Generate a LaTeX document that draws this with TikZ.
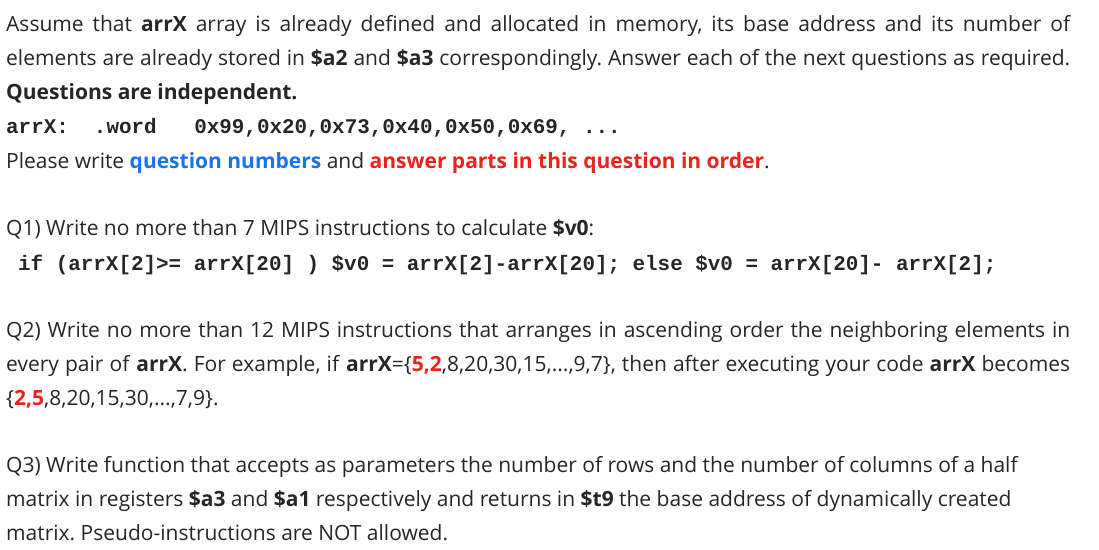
\documentclass[tikz,border=0pt]{standalone}
\usepackage{fontspec}
\setmainfont{Open Sans}
\setmonofont{Liberation Mono}
\definecolor{qblue}{HTML}{1A73E8}
\definecolor{qred}{HTML}{E8241C}
\frenchspacing
\newcommand{\jline}[1]{\hbox to 1064pt{#1}}
\begin{document}
\begin{tikzpicture}[x=1pt,y=1pt,
  txt/.style={anchor=base west,inner sep=0pt,font=\fontsize{21}{25}\selectfont,text=black!85},
  code/.style={anchor=base west,inner sep=0pt,font=\fontsize{20.9}{23}\ttfamily\bfseries,text=black!85}]
\useasboundingbox[fill=white] (0,0) rectangle (1099,-549);
\node[txt] (l1) at (6,-31) {\jline{Assume that \textbf{arrX} array is already defined and allocated in memory, its base address and its number of}};
\node[txt] (l2) at (6,-65) {\jline{elements are already stored in \textbf{\$a2} and \textbf{\$a3} correspondingly. Answer each of the next questions as required.}};
\node[txt] (l3) at (6,-99) {\textbf{Questions are independent.}};
\node[code] (l4) at (6,-133) {arrX:\ \ .word\ \ \ 0x99,0x20,0x73,0x40,0x50,0x69, ...};
\node[txt] (l5) at (6,-168) {Please write \textcolor{qblue}{\textbf{question numbers}} and \textcolor{qred}{\textbf{answer parts in this question in order}}.};
\node[txt] (q1) at (6,-235) {Q1) Write no more than 7 MIPS instructions to calculate \textbf{\$v0}:};
\node[code] (c1) at (18,-270) {if (arrX[2]>= arrX[20] ) \$v0 = arrX[2]-arrX[20]; else \$v0 = arrX[20]- arrX[2];};
\node[txt] (q2a) at (6,-337) {\jline{Q2) Write no more than 12 MIPS instructions that arranges in ascending order the neighboring elements in}};
\node[txt] (q2b) at (6,-371) {\jline{every pair of \textbf{arrX}. For example, if \textbf{arrX}=\{\textcolor{qred}{\textbf{5,2}},8,20,30,15,...,9,7\}, then after executing your code \textbf{arrX} becomes}};
\node[txt] (q2c) at (6,-405) {\{\textcolor{qred}{\textbf{2,5}},8,20,15,30,...,7,9\}.};
\node[txt] (q3a) at (6,-472) {Q3) Write function that accepts as parameters the number of rows and the number of columns of a half};
\node[txt] (q3b) at (6,-506) {matrix in registers \textbf{\$a3} and \textbf{\$a1} respectively and returns in \textbf{\$t9} the base address of dynamically created};
\node[txt] (q3c) at (6,-540) {matrix. Pseudo-instructions are NOT allowed.};
\end{tikzpicture}
\end{document}
